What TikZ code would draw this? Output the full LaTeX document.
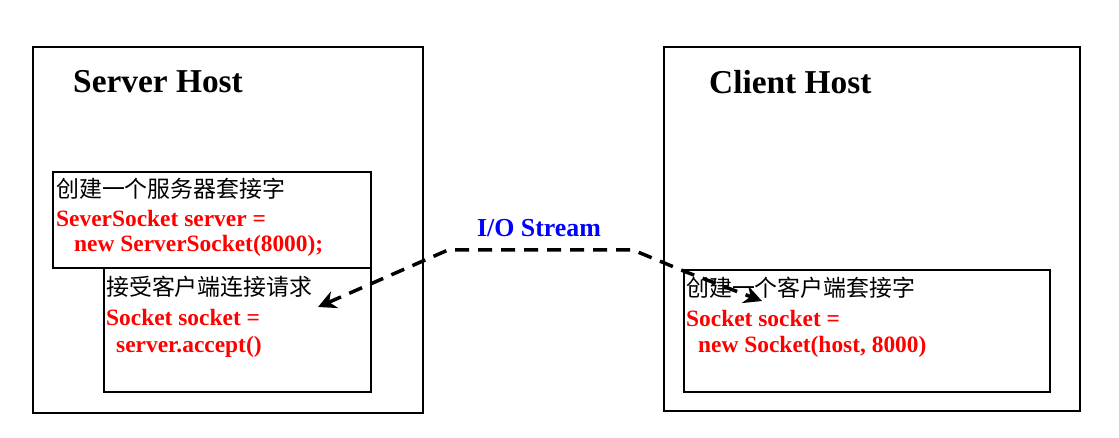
\documentclass[tikz,border=0pt]{standalone}
\usepackage{fontspec}
\setmainfont{Liberation Serif}
\newfontfamily\cjk{Noto Sans CJK SC}
\usetikzlibrary{arrows.meta}
\begin{document}
\begin{tikzpicture}[x=1bp,y=-1bp,
 box/.style={draw,line width=2bp},
 t/.style={anchor=west,inner sep=0,font=\bfseries\fontsize{23.5}{24}\selectfont},
 c/.style={anchor=west,inner sep=0,font=\cjk\fontsize{23}{24}\selectfont},
 h/.style={anchor=west,inner sep=0,font=\bfseries\fontsize{33.5}{34}\selectfont}]
\useasboundingbox (0,0) rectangle (1119,438);
\draw[box] (33,47) rectangle (423,413);
\draw[box] (664,47) rectangle (1080,411);
\draw[box,fill=white] (53,172) rectangle (371,268);
\draw[box] (104,268) rectangle (371,392);
\draw[box] (684,270) rectangle (1050,392);
\node[h] (sh) at (73,82) {Server Host};
\node[h] (ch) at (709,82) {Client Host};
\node[c] (a1) at (56,189) {创建一个服务器套接字};
\node[t,red] (a2) at (56,218) {SeverSocket server =};
\node[t,red] (a3) at (74,246) {new ServerSocket(8000);};
\node[c] (b1) at (106,287) {接受客户端连接请求};
\node[t,red] (b2) at (106,317) {Socket socket =};
\node[t,red] (b3) at (116,347) {server.accept()};
\node[c] (c1) at (686,288) {创建一个客户端套接字};
\node[t,red] (c2) at (686,318) {Socket socket =};
\node[t,red] (c3) at (698,347) {new Socket(host, 8000)};
\node[anchor=center,inner sep=0,font=\bfseries\fontsize{26}{26}\selectfont,blue] (io) at (539,228) {I/O Stream};
\coordinate (p0) at (318,307);
\coordinate (p1) at (448,250);
\coordinate (p2) at (633,250);
\coordinate (p3) at (686,272);
\coordinate (p4) at (762,301);
\draw[line width=3.5bp,dash pattern=on 14bp off 9bp,{Stealth[length=18bp,width=18bp]}-{Stealth[length=18bp,width=18bp]}] (p0) -- (p1) -- (p2) -- (p3) -- (p4);
\end{tikzpicture}
\end{document}
